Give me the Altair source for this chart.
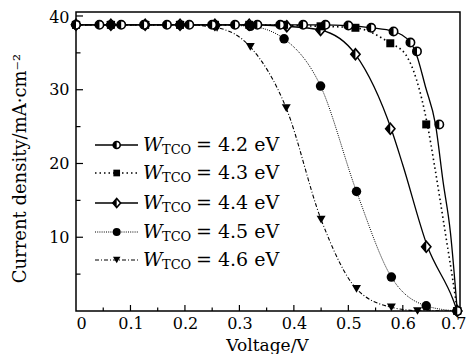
import altair as alt
import pandas as pd

FONT = "DejaVu Serif"
W, H = 384, 299

# ---------------- data ----------------
SERIES = ["4.2 eV", "4.3 eV", "4.4 eV", "4.5 eV", "4.6 eV"]

# markers
MV42 = [0, 0.043, 0.083, 0.125, 0.167, 0.208, 0.25, 0.292, 0.333, 0.375, 0.417, 0.458, 0.50, 0.542, 0.583, 0.614, 0.626, 0.667, 0.70]
MJ42 = [38.8, 38.8, 38.8, 38.8, 38.8, 38.8, 38.8, 38.8, 38.8, 38.8, 38.8, 38.8, 38.7, 38.4, 37.9, 36.4, 35.2, 25.3, 0]
MV43 = [0, 0.064, 0.127, 0.191, 0.255, 0.318, 0.382, 0.449, 0.513, 0.577, 0.643, 0.70]
MJ43 = [38.8, 38.8, 38.8, 38.8, 38.8, 38.8, 38.8, 38.6, 38.4, 36.3, 25.3, 0]
MV44 = [0, 0.064, 0.127, 0.191, 0.255, 0.318, 0.387, 0.449, 0.513, 0.577, 0.643, 0.70]
MJ44 = [38.8, 38.8, 38.8, 38.8, 38.8, 38.8, 38.6, 38.1, 34.8, 24.7, 8.7, 0]
MV45 = [0, 0.064, 0.127, 0.191, 0.255, 0.32, 0.382, 0.449, 0.515, 0.579, 0.643, 0.70]
MJ45 = [38.8, 38.8, 38.8, 38.8, 38.8, 38.6, 36.9, 30.5, 16.2, 4.6, 0.7, 0]
MV46 = [0, 0.064, 0.127, 0.191, 0.259, 0.32, 0.386, 0.45, 0.515, 0.579, 0.627, 0.70]
MJ46 = [38.8, 38.8, 38.8, 38.8, 38.4, 35.8, 27.5, 12.4, 3.0, 0.5, 0, 0]

# curves
LV42 = [0, 0.30, 0.45, 0.50, 0.542, 0.583, 0.614, 0.623, 0.642, 0.66, 0.674, 0.6875, 0.70]
LJ42 = [38.8, 38.8, 38.8, 38.7, 38.4, 37.9, 36.4, 35.2, 30.3, 25.3, 17.5, 10.6, 0]
LV43 = [0, 0.30, 0.449, 0.513, 0.577, 0.605, 0.645, 0.658, 0.678, 0.697, 0.70]
LJ43 = [38.8, 38.8, 38.6, 38.4, 36.3, 34.8, 25.3, 19.8, 10.6, 1.6, 0]
LV44 = [0, 0.30, 0.387, 0.449, 0.513, 0.58, 0.60, 0.645, 0.692, 0.70]
LJ44 = [38.8, 38.8, 38.6, 38.1, 34.8, 24.4, 19.8, 8.8, 1.6, 0]
LV45 = [0, 0.25, 0.32, 0.382, 0.449, 0.515, 0.579, 0.643, 0.70]
LJ45 = [38.8, 38.8, 38.6, 36.9, 30.5, 16.2, 4.6, 0.7, 0]
LV46 = [0, 0.20, 0.259, 0.32, 0.386, 0.45, 0.515, 0.579, 0.627, 0.70]
LJ46 = [38.8, 38.8, 38.4, 35.8, 27.5, 12.4, 3.0, 0.5, 0.05, 0]

XLAB = [0, 0.1, 0.2, 0.3, 0.4, 0.5, 0.6, 0.7]
XT_MAJOR = [0.1, 0.2, 0.3, 0.4, 0.5, 0.6]
XT_MINOR = [0.05, 0.15, 0.25, 0.35, 0.45, 0.55, 0.65]
YLAB = [10, 20, 30, 40]
YT_MINOR = [5, 15, 25, 35]

# ---------------- styles ----------------
HALF_CIRCLE = "M0,-1A1,1,0,0,0,0,1Z"
DIAMOND = "M-0.85,0L0,-1L0.85,0L0,1Z"
HALF_DIAMOND = "M0,-1L-0.85,0L0,1Z"

STYLE = {
    "4.2 eV": dict(dash=None, lw=1.3, kind="half", shape="circle", half=HALF_CIRCLE, size=70),
    "4.3 eV": dict(dash=[1.5, 3], lw=1.6, kind="filled", shape="square", size=64),
    "4.4 eV": dict(dash=None, lw=1.3, kind="half", shape=DIAMOND, half=HALF_DIAMOND, size=120),
    "4.5 eV": dict(dash=[1, 1.2], lw=1.0, kind="filled", shape="circle", size=90),
    "4.6 eV": dict(dash=[4, 2, 1, 2], lw=1.1, kind="filled", shape="triangle-down", size=80),
}

LINES = {"4.2 eV": (LV42, LJ42), "4.3 eV": (LV43, LJ43), "4.4 eV": (LV44, LJ44),
         "4.5 eV": (LV45, LJ45), "4.6 eV": (LV46, LJ46)}
MARKS = {"4.2 eV": (MV42, MJ42), "4.3 eV": (MV43, MJ43), "4.4 eV": (MV44, MJ44),
         "4.5 eV": (MV45, MJ45), "4.6 eV": (MV46, MJ46)}

xscale = alt.Scale(domain=[0, 0.705], nice=False, zero=False)
yscale = alt.Scale(domain=[0, 40.54], nice=False, zero=False)
xaxis = alt.Axis(values=XLAB, format=".1~f", ticks=False, domain=False, grid=False,
                 labelFont=FONT, labelFontSize=16, labelColor="black", labelPadding=4,
                 labelOffset={"condition": {"test": "datum.value >= 0.69", "value": -4}, "value": 0},
                 title="Voltage/V", titleFont=FONT, titleFontSize=17, titleFontWeight="normal",
                 titleColor="black", titleX=191, titleY=39, titleBaseline="alphabetic")
yaxis = alt.Axis(values=YLAB, ticks=False, domain=False, grid=False,
                 labelFont=FONT, labelFontSize=16, labelColor="black", labelPadding=7,
                 labelOffset={"condition": {"test": "datum.value >= 40", "value": 2}, "value": 0},
                 title="Current density/mA·cm⁻²", titleFont=FONT, titleFontSize=18,
                 titleFontWeight="normal", titleColor="black",
                 titleX=-56, titleY=156, titleBaseline="middle")
X = alt.X("V:Q", scale=xscale, axis=xaxis)
Y = alt.Y("J:Q", scale=yscale, axis=yaxis)


def marker_layers(df, st, enc, size):
    out = []
    if st["kind"] == "half":
        out.append(alt.Chart(df).mark_point(shape=st["shape"], filled=True, fill="white",
                                            stroke="black", strokeWidth=1.6, size=size,
                                            opacity=1).encode(**enc))
        out.append(alt.Chart(df).mark_point(shape=st["half"], filled=True, fill="black",
                                            strokeWidth=0, size=size, opacity=1).encode(**enc))
    else:
        out.append(alt.Chart(df).mark_point(shape=st["shape"], filled=True, fill="black",
                                            strokeWidth=0, size=size, opacity=1).encode(**enc))
    return out


layers = []
for s in SERIES[::-1]:
    st = STYLE[s]
    lv, lj = LINES[s]
    ldf = pd.DataFrame({"V": lv, "J": lj})
    kw = dict(color="black", strokeWidth=st["lw"], interpolate="monotone", clip=True)
    if st["dash"]:
        kw["strokeDash"] = st["dash"]
    layers.append(alt.Chart(ldf).mark_line(**kw).encode(x=X, y=Y))

for s in SERIES[::-1]:
    st = STYLE[s]
    mv, mj = MARKS[s]
    mdf = pd.DataFrame({"V": mv, "J": mj})
    layers += marker_layers(mdf, st, dict(x=X, y=Y), st["size"])

# inward ticks
layers.append(alt.Chart(pd.DataFrame({"V": XT_MAJOR})).mark_rule(color="black", strokeWidth=1.2)
              .encode(x=X, y=alt.value(H), y2=alt.value(H - 6)))
layers.append(alt.Chart(pd.DataFrame({"V": XT_MINOR})).mark_rule(color="black", strokeWidth=1.2)
              .encode(x=X, y=alt.value(H), y2=alt.value(H - 3.5)))
layers.append(alt.Chart(pd.DataFrame({"J": YLAB})).mark_rule(color="black", strokeWidth=1.2)
              .encode(y=Y, x=alt.value(0), x2=alt.value(7)))
layers.append(alt.Chart(pd.DataFrame({"J": YT_MINOR})).mark_rule(color="black", strokeWidth=1.2)
              .encode(y=Y, x=alt.value(0), x2=alt.value(4.5)))

# legend
ROW_Y = [133, 161, 191, 220, 248]
for s, yy in zip(SERIES, ROW_Y):
    st = STYLE[s]
    one = pd.DataFrame({"label": ["= " + s]})
    kw = dict(color="black", strokeWidth=st["lw"])
    if st["dash"]:
        kw["strokeDash"] = st["dash"]
    layers.append(alt.Chart(one).mark_rule(**kw).encode(
        x=alt.value(19), x2=alt.value(62), y=alt.value(yy)))
    layers += marker_layers(one, st, dict(x=alt.value(40.7), y=alt.value(yy)), st["size"] * 0.7)
    layers.append(alt.Chart(one).mark_text(text="W", font=FONT, fontStyle="italic", fontSize=19,
                                           align="left", baseline="middle", color="black")
                  .encode(x=alt.value(67), y=alt.value(yy)))
    layers.append(alt.Chart(one).mark_text(text="TCO", font=FONT, fontSize=13,
                                           align="left", baseline="middle", color="black")
                  .encode(x=alt.value(86), y=alt.value(yy + 5)))
    layers.append(alt.Chart(one).mark_text(font=FONT, fontSize=19,
                                           align="left", baseline="middle", color="black")
                  .encode(x=alt.value(120), y=alt.value(yy), text="label:N"))

chart = alt.layer(*layers).properties(
    width=W, height=H,
    autosize=alt.AutoSizeParams(type="none"),
    padding={"left": 68, "top": 4, "right": 6, "bottom": 43},
    background="white",
).configure_view(stroke="black", strokeWidth=1.5)

chart.save("out.html", embed_options={"renderer": "svg", "actions": False})
